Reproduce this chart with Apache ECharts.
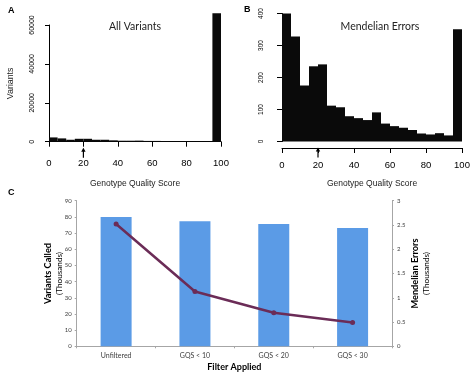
<!DOCTYPE html>
<html>
<head>
<meta charset="utf-8">
<script src="https://cdn.jsdelivr.net/npm/echarts@6/dist/echarts.min.js"></script>
<style>
  html, body { margin: 0; padding: 0; background: #fff; }
  #chart { width: 474px; height: 377px; }
</style>
</head>
<body>
<div id="chart"></div>
<script>
// ---- data ----
const binLabels = ['0-5','5-10','10-15','15-20','20-25','25-30','30-35','35-40','40-45','45-50',
                   '50-55','55-60','60-65','65-70','70-75','75-80','80-85','85-90','90-95','95-100'];
const variantCounts = [2200, 1700, 1000, 1500, 1500, 1000, 1000, 700, 500, 500,
                       550, 400, 400, 350, 300, 300, 300, 300, 300, 66000];
const mendelianCounts = [400, 328, 175, 235, 241, 112, 107, 79, 73, 67,
                         91, 56, 48, 43, 36, 25, 22, 26, 19, 351];
const gqsThreshold = [20];

const filters = ['Unfiltered', 'GQS < 10', 'GQS < 20', 'GQS < 30'];
const variantsCalled = [80, 77.3, 75.6, 73.2];      // thousands
const mendelianErrors = [2.52, 1.13, 0.69, 0.49];   // thousands

// ---- styling ----
const R_FONT = 'Liberation Sans, Arial, sans-serif';
const X_FONT = 'Lato, Liberation Sans, sans-serif';
const plain = v => String(v);

function arrowSeries(xIdx, yIdx) {
  return {
    type: 'custom', xAxisIndex: xIdx, yAxisIndex: yIdx, clip: false, silent: true,
    data: gqsThreshold.map(v => [v, 0]),
    renderItem: function (params, api) {
      const p = api.coord([api.value(0), 0]);
      const tipY = p[1] + 6;
      return {
        type: 'group',
        children: [
          { type: 'line', shape: { x1: p[0], y1: tipY + 2, x2: p[0], y2: tipY + 10 },
            style: { stroke: '#000', lineWidth: 1.2 } },
          { type: 'polygon', shape: { points: [[p[0], tipY], [p[0] - 2.2, tipY + 4], [p[0] + 2.2, tipY + 4]] },
            style: { fill: '#000' } }
        ]
      };
    }
  };
}

const chart = echarts.init(document.getElementById('chart'), null, { renderer: 'canvas' });

const option = {
  backgroundColor: '#fff',
  animation: false,
  title: [
    { text: 'A', left: 3, top: 1, textStyle: { fontFamily: R_FONT, fontSize: 9, fontWeight: 'bold', color: '#000' } },
    { text: 'B', left: 239, top: 0, textStyle: { fontFamily: R_FONT, fontSize: 9, fontWeight: 'bold', color: '#000' } },
    { text: 'C', left: 3, top: 183, textStyle: { fontFamily: R_FONT, fontSize: 9, fontWeight: 'bold', color: '#000' } },
    { text: 'All Variants', left: 130, top: 22, textAlign: 'center', textVerticalAlign: 'middle',
      textStyle: { fontFamily: X_FONT, fontSize: 10.5, fontWeight: 'normal', color: '#222' } },
    { text: 'Mendelian Errors', left: 375, top: 22, textAlign: 'center', textVerticalAlign: 'middle',
      textStyle: { fontFamily: X_FONT, fontSize: 10.5, fontWeight: 'normal', color: '#222' } }
  ],
  grid: [
    { left: 49, top: 13.3, width: 172, height: 128.4 },   // A data
    { left: 49, top: 25, width: 172, height: 116.7 },     // A axes
    { left: 282, top: 13.5, width: 180, height: 128 },    // B
    { left: 76.7, top: 200.7, width: 315.3, height: 145.6 } // C
  ],
  xAxis: [
    { gridIndex: 0, type: 'category', data: binLabels, show: false },
    { gridIndex: 1, type: 'value', min: 0, max: 100, interval: 20, offset: 5,
      axisLine: { show: true, lineStyle: { color: '#000', width: 1 } },
      axisTick: { show: true, length: 5, lineStyle: { color: '#000' } },
      axisLabel: { fontFamily: R_FONT, fontSize: 9.5, color: '#000', margin: 12 },
      splitLine: { show: false },
      name: 'Genotype Quality Score', nameLocation: 'middle', nameGap: 32, nameMoveOverlap: false,
      nameTextStyle: { fontFamily: R_FONT, fontSize: 8.5, color: '#222' } },
    { gridIndex: 2, type: 'category', data: binLabels, show: false },
    { gridIndex: 2, type: 'value', min: 0, max: 100, interval: 20, offset: 6.5, position: 'bottom',
      axisLine: { show: true, lineStyle: { color: '#000', width: 1 } },
      axisTick: { show: true, length: 5, lineStyle: { color: '#000' } },
      axisLabel: { fontFamily: R_FONT, fontSize: 9.5, color: '#000', margin: 12 },
      splitLine: { show: false },
      name: 'Genotype Quality Score', nameLocation: 'middle', nameGap: 31, nameMoveOverlap: false,
      nameTextStyle: { fontFamily: R_FONT, fontSize: 8.5, color: '#222' } },
    { gridIndex: 3, type: 'category', data: filters,
      axisLine: { show: true, lineStyle: { color: '#a6a6a6', width: 1 } },
      axisTick: { show: true, length: 2, lineStyle: { color: '#a6a6a6' } },
      axisLabel: { fontFamily: X_FONT, fontSize: 7, color: '#404040', margin: 6 },
      name: 'Filter Applied', nameLocation: 'middle', nameGap: 16, nameMoveOverlap: false,
      nameTextStyle: { fontFamily: X_FONT, fontSize: 9, fontWeight: 'bold', color: '#000' } }
  ],
  yAxis: [
    { gridIndex: 0, type: 'value', min: 0, max: 66000, show: false },
    { gridIndex: 1, type: 'value', min: 0, max: 60000, interval: 20000, offset: 8,
      axisLine: { show: true, lineStyle: { color: '#000', width: 1 } },
      axisTick: { show: true, length: 4, lineStyle: { color: '#000' } },
      axisLabel: { fontFamily: R_FONT, fontSize: 7, color: '#000', rotate: 90, margin: 5, formatter: plain },
      splitLine: { show: false },
      name: 'Variants', nameLocation: 'middle', nameGap: 26, nameMoveOverlap: false,
      nameTextStyle: { fontFamily: R_FONT, fontSize: 8.8, color: '#222' } },
    { gridIndex: 2, type: 'value', min: 0, max: 400, interval: 100, offset: 7,
      axisLine: { show: true, lineStyle: { color: '#000', width: 1 } },
      axisTick: { show: true, length: 5, lineStyle: { color: '#000' } },
      axisLabel: { fontFamily: R_FONT, fontSize: 6.5, color: '#000', rotate: 90, margin: 10, formatter: plain },
      splitLine: { show: false } },
    { gridIndex: 3, type: 'value', min: 0, max: 90, interval: 10, position: 'left',
      axisLine: { show: true, lineStyle: { color: '#a6a6a6', width: 1 } },
      axisTick: { show: true, length: 2, lineStyle: { color: '#a6a6a6' } },
      axisLabel: { fontFamily: X_FONT, fontSize: 6, color: '#404040', margin: 5 },
      splitLine: { show: false },
      name: '{b|Variants Called}\n{n|(Thousands)}', nameLocation: 'middle', nameGap: 12, nameMoveOverlap: false,
      nameTextStyle: { align: 'center', lineHeight: 11,
        rich: { b: { fontFamily: X_FONT, fontSize: 9.2, fontWeight: 'bold', color: '#000', lineHeight: 11 },
                n: { fontFamily: X_FONT, fontSize: 8.2, color: '#000', lineHeight: 11 } } } },
    { gridIndex: 3, type: 'value', min: 0, max: 3, interval: 0.5, position: 'right',
      axisLine: { show: true, lineStyle: { color: '#a6a6a6', width: 1 } },
      axisTick: { show: true, length: 2, lineStyle: { color: '#a6a6a6' } },
      axisLabel: { fontFamily: X_FONT, fontSize: 6, color: '#404040', margin: 5 },
      splitLine: { show: false },
      name: '{b|Mendelian Errors}\n{n|(Thousands)}', nameLocation: 'middle', nameGap: 18, nameMoveOverlap: false,
      nameTextStyle: { align: 'center', lineHeight: 11,
        rich: { b: { fontFamily: X_FONT, fontSize: 9.2, fontWeight: 'bold', color: '#000', lineHeight: 11 },
                n: { fontFamily: X_FONT, fontSize: 8.2, color: '#000', lineHeight: 11 } } } }
  ],
  series: [
    { type: 'bar', xAxisIndex: 0, yAxisIndex: 0, data: variantCounts, barCategoryGap: '0%',
      itemStyle: { color: '#0a0a0a' } },
    arrowSeries(1, 1),
    { type: 'bar', xAxisIndex: 2, yAxisIndex: 2, data: mendelianCounts, barCategoryGap: '0%',
      itemStyle: { color: '#0a0a0a' } },
    arrowSeries(3, 2),
    { type: 'bar', xAxisIndex: 4, yAxisIndex: 3, data: variantsCalled, barWidth: 31,
      itemStyle: { color: '#5b9be6' } },
    { type: 'line', xAxisIndex: 4, yAxisIndex: 4, data: mendelianErrors,
      symbol: 'circle', symbolSize: 5,
      lineStyle: { color: '#6b2c57', width: 2.5 }, itemStyle: { color: '#6b2c57' } }
  ]
};
chart.setOption(option);
</script>
</body>
</html>
